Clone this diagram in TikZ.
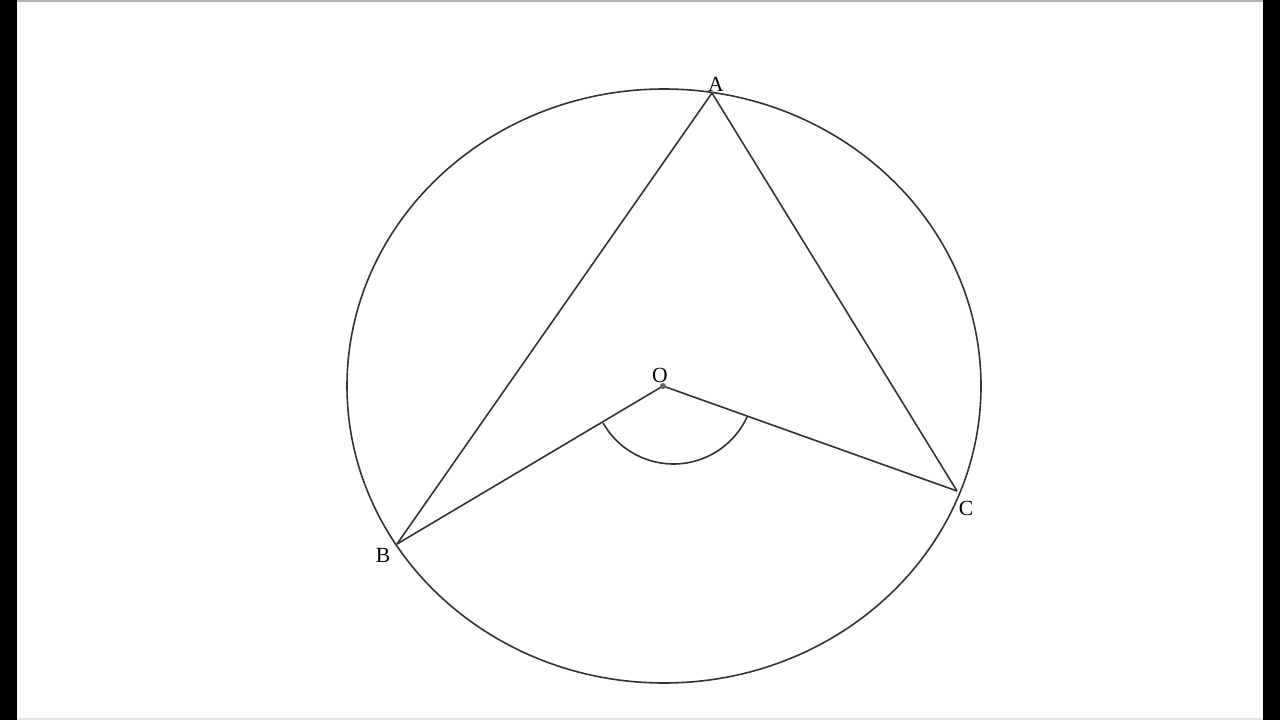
\documentclass[tikz,border=0pt]{standalone}
\usepackage{fontspec}
\setmainfont{Liberation Serif}
\usepackage{tikz}

\begin{document}
\begin{tikzpicture}[x=0.5pt, y=0.5pt, line width=0.8pt,
    seg/.style={draw=black!80},
    ptlabel/.style={font=\fontsize{10.8}{13}\selectfont, inner sep=0pt}]
            \useasboundingbox (0,0) rectangle (1280,720);
            \fill[white] (0,0) rectangle (1280,720);
            \fill[black] (0,0) rectangle (17,720);
            \fill[black] (1263,0) rectangle (1280,720);
            \draw[black!30, line width=1pt] (17,719) -- (1263,719);
            \draw[black!10, line width=1pt] (17,1) -- (1263,1);

            \coordinate (O) at (663, 334);
            \coordinate (A) at (712, 627);
            \coordinate (B) at (397, 176);
            \coordinate (C) at (957, 229);
            \coordinate (arcstart) at (603.1, 297);

            \draw[seg]  (664, 334) ellipse [x radius=158.5pt, y radius=148.5pt];
            \draw[seg]  (A) -- (B);
            \draw[seg]  (A) -- (C);
            \draw[seg]  (O) -- (B);
            \draw[seg]  (O) -- (C);
            \draw[seg]  (arcstart) arc [start angle=209.6, end angle=335.2, radius=40.5pt];
            \fill[black!60]  (O) circle (1.5pt);

            \node[ptlabel] (labA) at (716, 636) {A};
            \node[ptlabel] (labO) at (660, 345) {O};
            \node[ptlabel] (labB) at (383, 165) {B};
            \node[ptlabel] (labC) at (966, 212) {C};
        \end{tikzpicture}
\end{document}
